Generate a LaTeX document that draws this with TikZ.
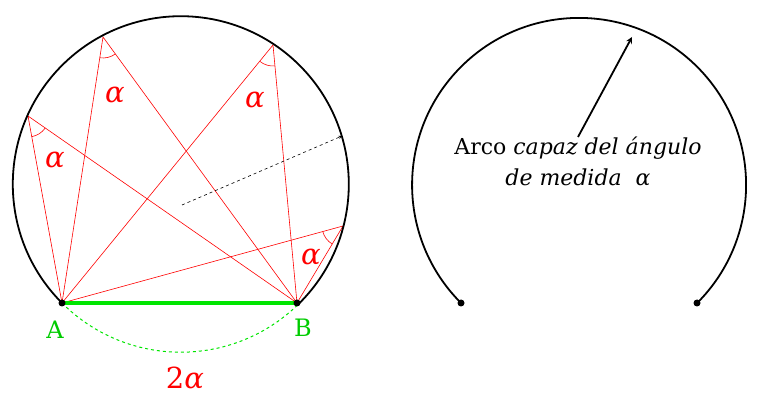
\documentclass[tikz,border=0pt]{standalone}
\usepackage{fontspec}
\setmainfont{DejaVu Serif}
\usetikzlibrary{angles}
\tikzset{
  chord/.style={red, line width=0.6pt},
  amark/.style={draw=red, line width=0.6pt, angle radius=21pt},
  alab/.style={red, font=\fontsize{29}{31}\selectfont\itshape},
  ptlab/.style={green!80!black, font=\fontsize{24}{26}\selectfont},
  dot/.style={circle, fill=black, inner sep=0pt, minimum size=7pt}
}
\begin{document}
\begin{tikzpicture}[x=1pt,y=1pt]
\useasboundingbox (0,0) rectangle (780,410);
\coordinate (O) at (180,225);
\coordinate (A) at (62,107);
\coordinate (B) at (297,107);
\coordinate (P1) at (103,373);
\coordinate (P2) at (273,365);
\coordinate (P3) at (28,294);
\coordinate (P4) at (343,184);
\foreach \p in {P1,P2,P3,P4}{
  \draw[chord] (A) -- (\p) -- (B);
  \path pic[amark] {angle = A--\p--B};
}
\draw[line width=1.8pt] (A) arc[start angle=225, end angle=-45, radius=168];
\draw[green!90!black, dashed, line width=1pt] (A) arc[start angle=225, end angle=315, radius=168];
\draw[green!90!black, line width=3.2pt] (A) -- (B);
\node[dot] (a) at (A) {};
\node[dot] (b) at (B) {};
\node[ptlab] (la) at (55,80) {A};
\node[ptlab] (lb) at (303,82) {B};
\node[alab] (l1) at (115,315) {α};
\node[alab] (l2) at (255,310) {α};
\node[alab] (l3) at (55,250) {α};
\node[alab] (l4) at (311,153) {α};
\node[red, font=\fontsize{29}{31}\selectfont] (l2a) at (185,32) {2\textit{α}};
\coordinate (d0) at (182,205);
\coordinate (d1) at (342,274);
\draw[dashed, -stealth, line width=0.6pt] (d0) -- (d1);
% right figure
\coordinate (A2) at (461,107);
\coordinate (B2) at (697,107);
\draw[line width=1.8pt] (A2) arc[start angle=225, end angle=-45, radius=167];
\node[dot] (a2) at (A2) {};
\node[dot] (b2) at (B2) {};
\coordinate (t0) at (578,273);
\coordinate (t1) at (632,373);
\draw[line width=1.8pt, -stealth] (t0) -- (t1);
\node[align=center, font=\fontsize{22}{31}\selectfont] (txt) at (578,249)
  {Arco \textit{capaz del ángulo}\\ \textit{de medida \ α}};
\end{tikzpicture}
\end{document}
